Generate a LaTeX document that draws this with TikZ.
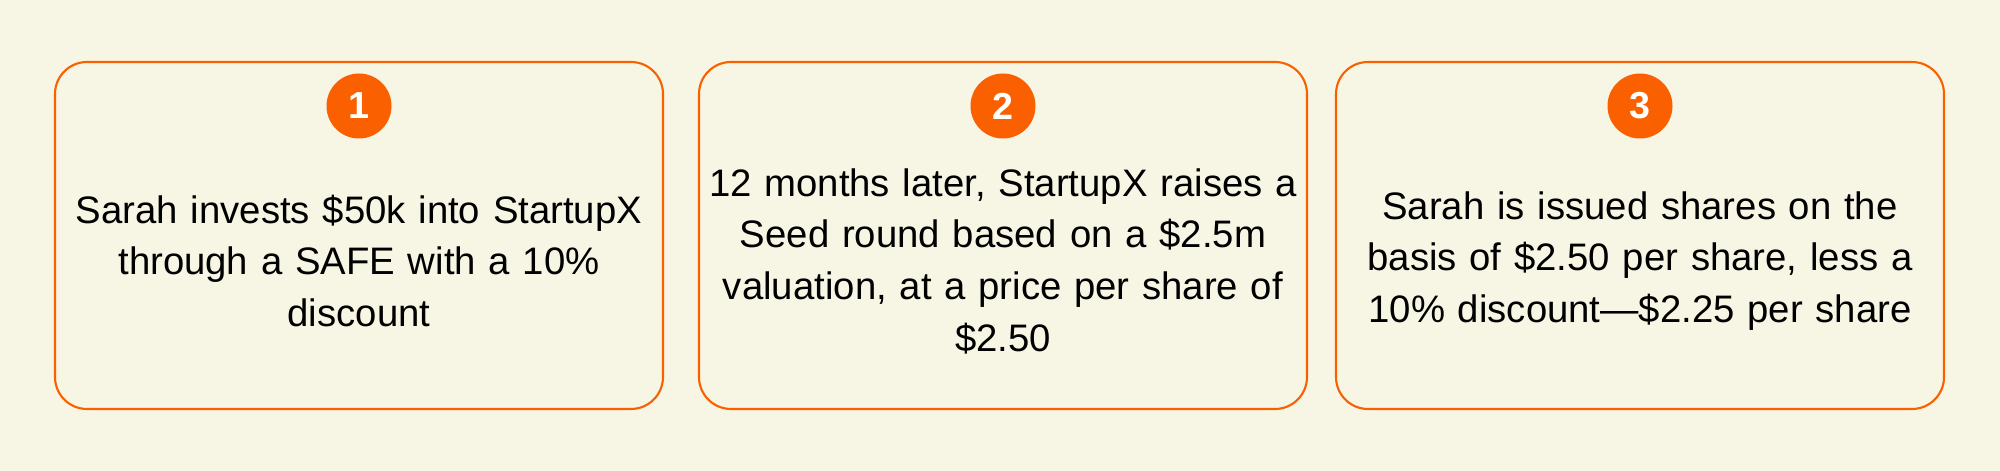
\documentclass[tikz,border=0pt]{standalone}
\usepackage{fontspec}
\setmainfont[WordSpace=0.8]{Liberation Sans}
\usepackage{tikz}
\definecolor{cream}{HTML}{F7F5E3}
\definecolor{safeorange}{HTML}{FA6000}

\begin{document}
\begin{tikzpicture}[
		stepcard/.style = {draw=safeorange, line width=0.6pt, rounded corners=0.32cm, minimum width=6.08cm, minimum height=3.47cm},
		badge/.style = {circle, fill=safeorange, text=white, inner sep=0pt, minimum size=0.65cm, font=\fontsize{10.7pt}{12pt}\selectfont\bfseries},
		stepText/.style = {align=center, text width=6.0cm, font=\fontsize{10.9pt}{14.7pt}\selectfont}
	]
			%background and page size
			\fill[cream] (0,0) rectangle (20,4.71);
			\useasboundingbox (0,0) rectangle (20,4.71);
			%the three cards
			\node[stepcard] (box1) at (3.59,2.355) {};
			\node[stepcard] (box2) at (10.03,2.355) {};
			\node[stepcard] (box3) at (16.40,2.355) {};
			%numbers
			\node[badge] (num1) at (3.59,3.65) {1};
			\node[badge] (num2) at (10.03,3.65) {2};
			\node[badge] (num3) at (16.40,3.65) {3};
			%texts
			\node[stepText] (txt1) at (3.59,2.10) {Sarah invests \$50k into StartupX\\ through a SAFE with a 10\%\\ discount};
			\node[stepText] (txt2) at (10.03,2.10) {12 months later, StartupX raises a\\ Seed round based on a \$2.5m\\ valuation, at a price per share of\\ \$2.50};
			\node[stepText] (txt3) at (16.40,2.10) {Sarah is issued shares on the\\ basis of \$2.50 per share, less a\\ 10\% discount---\$2.25 per share};
		\end{tikzpicture}
\end{document}
